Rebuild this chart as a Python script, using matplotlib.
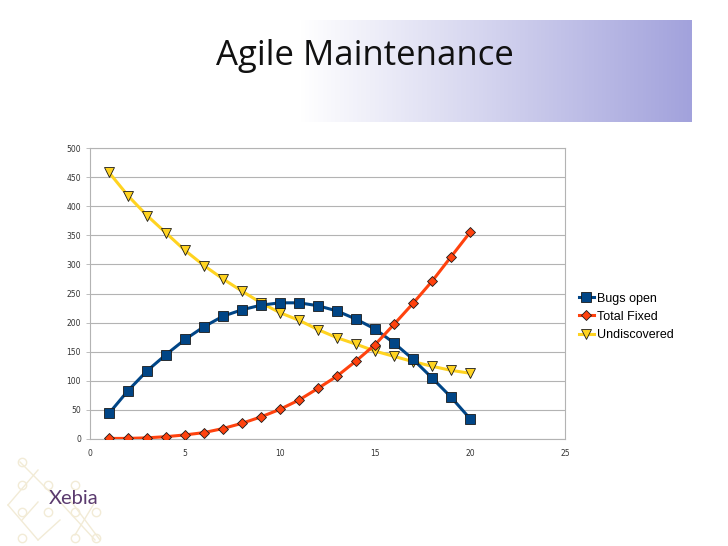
import numpy as np
import matplotlib
matplotlib.use("Agg")
import matplotlib.pyplot as plt
from matplotlib.colors import LinearSegmentedColormap

# data
x = list(range(1, 21))
bugs_open = [44, 83, 117, 145, 171, 193, 211, 222, 230, 234,
             234, 229, 220, 206, 189, 165, 137, 105, 72, 35]
total_fixed = [1, 1, 2, 4, 7, 11, 18, 27, 38, 51,
               67, 87, 108, 134, 162, 197, 233, 271, 313, 355]
undiscovered = [458, 418, 384, 354, 324, 298, 275, 254, 234, 217,
                204, 188, 174, 163, 151, 142, 133, 125, 118, 113]
series_names = ["Bugs open", "Total Fixed", "Undiscovered"]
x_ticks = [0, 5, 10, 15, 20, 25]
y_ticks = [0, 50, 100, 150, 200, 250, 300, 350, 400, 450, 500]

fig = plt.figure(figsize=(7.28, 5.46), dpi=100)
fig.patch.set_facecolor("white")

# --- title band with gradient ---
band = fig.add_axes([300 / 728, 1 - 122 / 546, (692 - 300) / 728, 102 / 546])
cmap = LinearSegmentedColormap.from_list("band", ["#ffffff", "#d2d2ee", "#a2a2dc"])
grad = np.linspace(0, 1, 256).reshape(1, -1)
band.imshow(grad, aspect="auto", cmap=cmap, extent=[0, 1, 0, 1])
band.axis("off")

fig.text(365 / 728, 1 - 56 / 546, "Agile Maintenance", ha="center", va="center",
         fontsize=25, family="Open Sans", color="#111111")

# --- chart ---
ax = fig.add_axes([90 / 728, 1 - 439 / 546, (565 - 90) / 728, (439 - 148) / 546])
ax.plot(x, bugs_open, color="#004586", lw=2.2, marker="s", ms=7,
        mec="#1a1a1a", mew=0.6, label=series_names[0], zorder=3)
ax.plot(x, total_fixed, color="#ff420e", lw=2.2, marker="D", ms=5,
        mec="#1a1a1a", mew=0.6, label=series_names[1], zorder=3)
ax.plot(x, undiscovered, color="#ffd320", lw=2.2, marker="v", ms=6.5,
        mec="#1a1a1a", mew=0.6, label=series_names[2], zorder=2)

ax.set_xlim(0, 25)
ax.set_ylim(0, 500)
ax.set_xticks(x_ticks)
ax.set_yticks(y_ticks)
ax.tick_params(labelsize=5.5, colors="#333333", length=3, width=0.6, color="#b3b3b3")
ax.tick_params(axis="x", length=0, pad=7)
ax.grid(axis="y", color="#b3b3b3", lw=0.8)
ax.set_axisbelow(True)
for s in ax.spines.values():
    s.set_color("#b3b3b3")
    s.set_linewidth(0.8)

ax.legend(loc="center left", bbox_to_anchor=(1.005, 0.42), frameon=False,
          handlelength=1.2, handletextpad=0.3, labelspacing=0.5,
          prop={"family": "Liberation Sans", "size": 9})

# --- Xebia logo ---
logo = fig.add_axes([0, 0, 130 / 728, 106 / 546])
logo.set_xlim(0, 130)
logo.set_ylim(106, 0)
logo.axis("off")
lc = "#f2ebd6"
for (x0, y0, x1, y1) in [(8, 65, 38, 30), (8, 65, 38, 100), (20, 22, 60, 62),
                         (22, 80, 38, 62), (38, 100, 60, 80), (60, 62, 95, 100),
                         (70, 60, 100, 100), (95, 62, 75, 95)]:
    logo.plot([x0, x1], [y0, y1], color=lc, lw=1)
for (cx, cy) in [(22, 22), (22, 45), (22, 72), (22, 98), (48, 45), (75, 45),
                 (75, 72), (96, 72), (75, 98), (96, 98), (48, 72)]:
    logo.plot(cx, cy, "o", ms=6, mfc="none", mec=lc, mew=1)
logo.text(49, 59, "Xebia", fontsize=14.5, color="#5a3a6e", family="Lato",
          va="center", ha="left")

plt.savefig("out.png", dpi=100)
